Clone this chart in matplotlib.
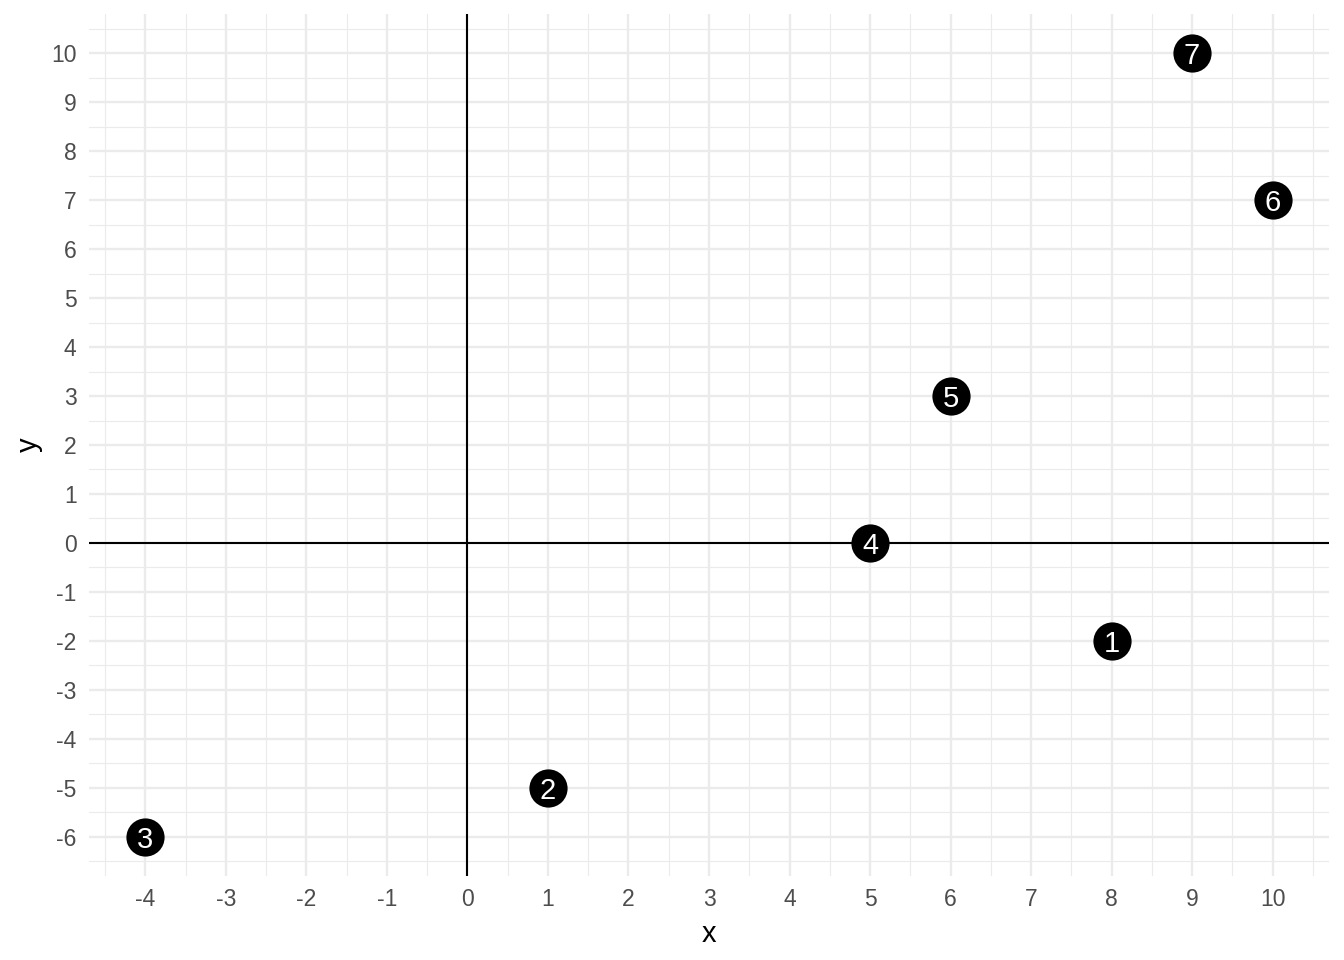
import numpy as np
import matplotlib.pyplot as plt
from matplotlib.ticker import MultipleLocator

plt.rcParams['font.family'] = ['Liberation Sans', 'DejaVu Sans']
plt.rcParams['axes.unicode_minus'] = False

# point data
x_vals = [8, 1, -4, 5, 6, 10, 9]
y_vals = [-2, -5, -6, 0, 3, 7, 10]
labels = ["1", "2", "3", "4", "5", "6", "7"]

GRID = "#EBEBEB"

fig = plt.figure(figsize=(13.44, 9.6), dpi=100)
ax = fig.add_axes([89 / 1344, 1 - 876 / 960, (1329 - 89) / 1344, (876 - 14) / 960])

xmin, xmax = min(x_vals), max(x_vals)
ymin, ymax = min(y_vals), max(y_vals)
ex = 0.05 * (xmax - xmin)
ey = 0.05 * (ymax - ymin)
ax.set_xlim(xmin - ex, xmax + ex)
ax.set_ylim(ymin - ey, ymax + ey)

ax.xaxis.set_major_locator(MultipleLocator(1))
ax.yaxis.set_major_locator(MultipleLocator(1))
ax.xaxis.set_minor_locator(MultipleLocator(0.5))
ax.yaxis.set_minor_locator(MultipleLocator(0.5))

ax.grid(which="major", color=GRID, linewidth=1.7, zorder=0)
ax.grid(which="minor", color=GRID, linewidth=0.85, zorder=0)
ax.set_axisbelow(True)

for s in ax.spines.values():
    s.set_visible(False)

ax.tick_params(which="both", length=0)
ax.tick_params(which="major", labelsize=16.5, labelcolor="#4D4D4D", pad=9)

ax.axhline(0, color="black", linewidth=1.5, zorder=2)
ax.axvline(0, color="black", linewidth=1.5, zorder=2)

ax.scatter(x_vals, y_vals, s=27.5 ** 2, color="black", zorder=3, linewidths=0)
for xv, yv, lab in zip(x_vals, y_vals, labels):
    ax.text(xv, yv, lab, color="white", fontsize=21, ha="center", va="center_baseline", zorder=4)

ax.set_xlabel("x", fontsize=21, labelpad=6)
ax.set_ylabel("y", fontsize=21, labelpad=6)

fig.savefig("out.png", dpi=100)
